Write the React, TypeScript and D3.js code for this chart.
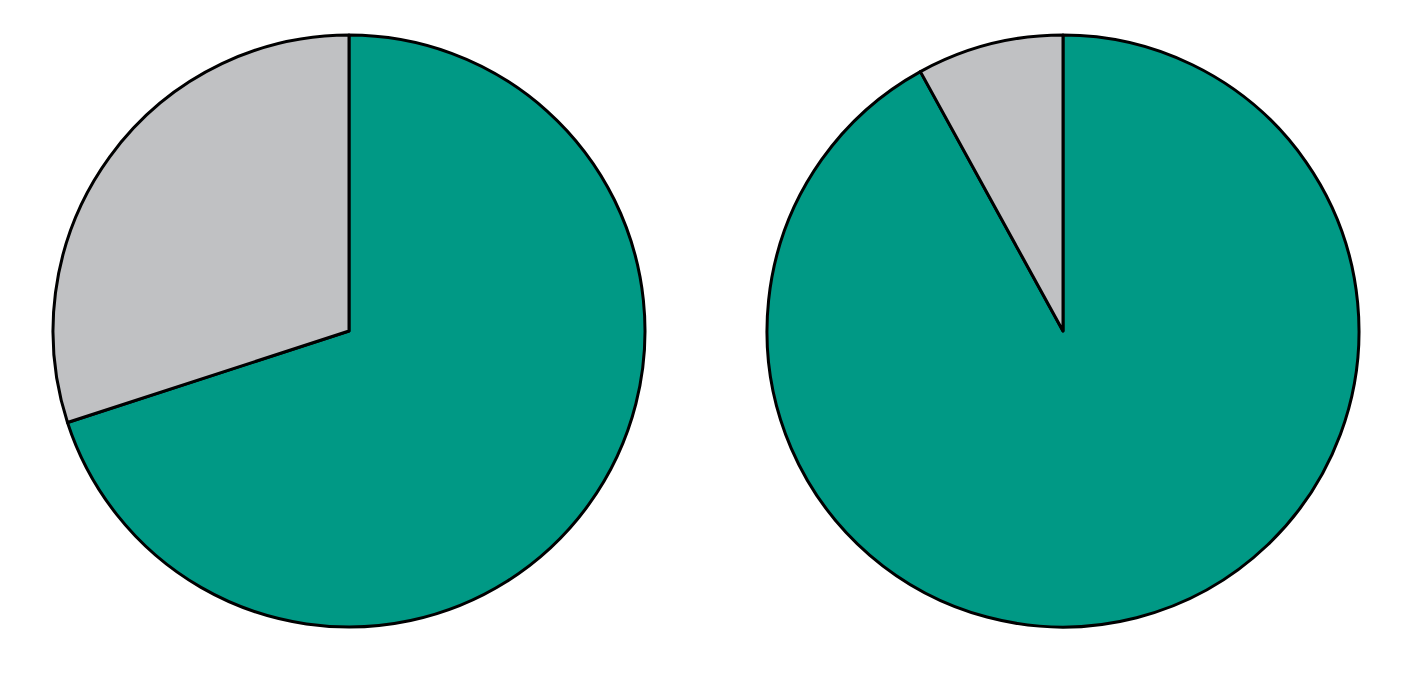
import * as d3 from 'd3';

// two pies, share of teal vs grey
const pieNames = ['left', 'right'];
const categories = ['main', 'rest'];
const leftValues = [70, 30];
const rightValues = [92, 8];
const colors = ['#009985', '#c0c1c3'];

export default function App() {
  const width = 1419;
  const height = 681;
  const radius = 296;
  const cy = 331;

  const x = d3.scalePoint<string>()
    .domain(pieNames)
    .range([349, 1063]);

  const color = d3.scaleOrdinal<string, string>()
    .domain(categories)
    .range(colors);

  const pie = d3.pie<number>().sort(null).value(d => d);
  const arc = d3.arc<d3.PieArcDatum<number>>().innerRadius(0).outerRadius(radius);

  const series = [leftValues, rightValues];

  return (
    <svg width={width} height={height} style={{ position: 'absolute', left: 0, top: 0, background: '#fff' }}>
      {series.map((values, i) => (
        <g key={pieNames[i]} transform={`translate(${x(pieNames[i])},${cy})`}>
          {pie(values).map((d, j) => (
            <path
              key={j}
              d={arc(d) ?? ''}
              fill={color(categories[j])}
              stroke="#000"
              strokeWidth={3}
              strokeLinejoin="round"
            />
          ))}
        </g>
      ))}
    </svg>
  );
}
